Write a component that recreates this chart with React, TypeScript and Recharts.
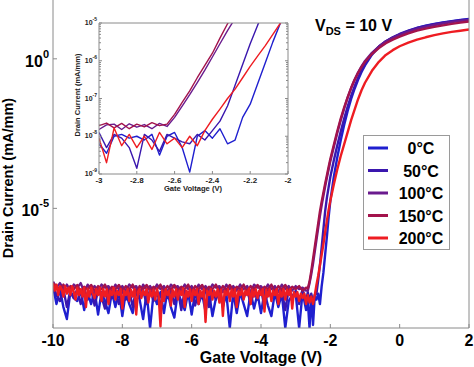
import React from "react";
import { LineChart, Line, XAxis, YAxis } from "recharts";

const FONT = '"Liberation Sans", Arial, sans-serif';

// gate voltage grid (V) for the main plot: noise floor part, then turn-on part
const FLOOR_V = [
  -10, -9.9, -9.8, -9.7, -9.6, -9.5, -9.4, -9.3, -9.2, -9.1,
  -9, -8.9, -8.8, -8.7, -8.6, -8.5, -8.4, -8.3, -8.2, -8.1,
  -8, -7.9, -7.8, -7.7, -7.6, -7.5, -7.4, -7.3, -7.2, -7.1,
  -7, -6.9, -6.8, -6.7, -6.6, -6.5, -6.4, -6.3, -6.2, -6.1,
  -6, -5.9, -5.8, -5.7, -5.6, -5.5, -5.4, -5.3, -5.2, -5.1,
  -5, -4.9, -4.8, -4.7, -4.6, -4.5, -4.4, -4.3, -4.2, -4.1,
  -4, -3.9, -3.8, -3.7, -3.6, -3.5, -3.4, -3.3, -3.2, -3.1,
  -3, -2.9, -2.8, -2.7,
];
// finer floor grid, used for the 200°C trace that lies on top
const FINE_V = [
  -10, -9.95, -9.9, -9.85, -9.8, -9.75, -9.7, -9.65, -9.6, -9.55,
  -9.5, -9.45, -9.4, -9.35, -9.3, -9.25, -9.2, -9.15, -9.1, -9.05,
  -9, -8.95, -8.9, -8.85, -8.8, -8.75, -8.7, -8.65, -8.6, -8.55,
  -8.5, -8.45, -8.4, -8.35, -8.3, -8.25, -8.2, -8.15, -8.1, -8.05,
  -8, -7.95, -7.9, -7.85, -7.8, -7.75, -7.7, -7.65, -7.6, -7.55,
  -7.5, -7.45, -7.4, -7.35, -7.3, -7.25, -7.2, -7.15, -7.1, -7.05,
  -7, -6.95, -6.9, -6.85, -6.8, -6.75, -6.7, -6.65, -6.6, -6.55,
  -6.5, -6.45, -6.4, -6.35, -6.3, -6.25, -6.2, -6.15, -6.1, -6.05,
  -6, -5.95, -5.9, -5.85, -5.8, -5.75, -5.7, -5.65, -5.6, -5.55,
  -5.5, -5.45, -5.4, -5.35, -5.3, -5.25, -5.2, -5.15, -5.1, -5.05,
  -5, -4.95, -4.9, -4.85, -4.8, -4.75, -4.7, -4.65, -4.6, -4.55,
  -4.5, -4.45, -4.4, -4.35, -4.3, -4.25, -4.2, -4.15, -4.1, -4.05,
  -4, -3.95, -3.9, -3.85, -3.8, -3.75, -3.7, -3.65, -3.6, -3.55,
  -3.5, -3.45, -3.4, -3.35, -3.3, -3.25, -3.2, -3.15, -3.1, -3.05,
  -3, -2.95, -2.9, -2.85, -2.8, -2.75, -2.7,
];
const RISE_V = [
  -2.65, -2.6, -2.55, -2.5, -2.45, -2.4, -2.35, -2.3, -2.25, -2.2,
  -2.15, -2.1, -2.05, -2.0, -1.9, -1.8, -1.7, -1.6, -1.5, -1.4,
  -1.3, -1.2, -1.1, -1.0, -0.8, -0.6, -0.4, -0.2, 0, 0.25,
  0.5, 0.75, 1, 1.25, 1.5, 1.75, 2,
];

// drain current, stored as log10(mA/mm)
const S0_FLOOR = [
  -7.6, -8.2, -7.7, -8.3, -8.7, -7.8, -8.0, -8.1, -7.75, -8.4,
  -7.8, -8.2, -7.75, -8.55, -7.8, -8.1, -8.5, -7.8, -8.3, -7.75,
  -8.6, -7.8, -8.2, -8.5, -7.8, -8.05, -8.7, -7.8, -9.0, -7.85,
  -8.2, -7.8, -8.5, -7.75, -8.3, -8.65, -7.8, -8.1, -8.4, -7.8,
  -8.55, -7.8, -8.2, -7.85, -8.45, -7.8, -8.6, -8.0, -7.8, -8.3,
  -7.85, -9.0, -7.8, -8.5, -7.8, -8.2, -8.6, -7.8, -8.35, -7.85,
  -8.5, -7.8, -8.25, -8.6, -7.8, -8.3, -7.85, -9.0, -8.1, -7.9,
  -7.85, -9.0, -7.8, -8.4,
];
const S0_RISE = [
  -8.1, -9.0, -7.9, -8.9, -7.95, -8.05, -7.85, -8.2, -7.6, -7.15,
  -6.55, -5.95, -5.3, -4.75, -3.95, -3.3, -2.72, -2.2, -1.74, -1.34,
  -1.0, -0.7, -0.44, -0.22, 0.14, 0.4, 0.58, 0.71, 0.82, 0.93,
  1.03, 1.11, 1.17, 1.22, 1.26, 1.3, 1.33,
];
const S50_FLOOR = [
  -7.55, -7.9, -8.1, -7.7, -8.3, -7.75, -8.0, -7.7, -8.2, -7.75,
  -8.05, -7.7, -8.25, -7.75, -7.95, -8.35, -7.7, -8.0, -7.75, -8.2,
  -7.7, -8.05, -7.75, -8.3, -7.7, -8.0, -7.75, -8.2, -7.7, -8.1,
  -7.75, -8.3, -7.7, -8.0, -7.75, -8.2, -7.7, -8.4, -7.75, -8.0,
  -7.7, -8.25, -7.75, -8.0, -7.7, -8.3, -7.75, -8.05, -7.7, -8.2,
  -7.75, -8.0, -7.7, -8.35, -7.75, -8.0, -7.7, -8.2, -7.75, -8.05,
  -7.7, -8.3, -7.75, -8.0, -7.7, -8.2, -7.75, -8.4, -7.7, -8.05,
  -7.75, -8.2, -7.7, -8.1,
];
const S50_RISE = [
  -7.8, -8.1, -7.85, -8.2, -7.9, -7.85, -7.4, -6.9, -6.3, -5.7,
  -5.1, -4.65, -4.3, -3.95, -3.4, -2.9, -2.43, -2.0, -1.6, -1.24,
  -0.92, -0.64, -0.39, -0.18, 0.17, 0.41, 0.59, 0.72, 0.83, 0.94,
  1.03, 1.1, 1.16, 1.21, 1.25, 1.29, 1.32,
];
const S100_FLOOR = [
  -7.45, -7.65, -7.5, -7.7, -7.55, -7.75, -7.55, -7.65, -7.5, -7.8,
  -7.55, -7.7, -7.6, -7.75, -7.55, -7.65, -7.6, -7.8, -7.55, -7.7,
  -7.6, -7.75, -7.55, -7.65, -7.6, -7.85, -7.55, -7.7, -7.6, -7.75,
  -7.55, -7.7, -7.6, -7.8, -7.55, -7.65, -7.6, -7.75, -7.55, -7.7,
  -7.6, -7.8, -7.55, -7.7, -7.6, -7.75, -7.55, -7.65, -7.6, -7.8,
  -7.55, -7.7, -7.6, -7.75, -7.55, -7.7, -7.6, -7.8, -7.55, -7.65,
  -7.6, -7.75, -7.55, -7.7, -7.6, -7.8, -7.55, -7.7, -7.6, -7.75,
  -7.6, -7.7, -7.65, -7.75,
];
const S100_RISE = [
  -7.75, -7.5, -7.2, -6.85, -6.45, -6.05, -5.65, -5.25, -4.9, -4.58,
  -4.27, -3.98, -3.7, -3.42, -2.95, -2.48, -2.05, -1.66, -1.3, -0.98,
  -0.7, -0.46, -0.25, -0.07, 0.2, 0.41, 0.58, 0.7, 0.8, 0.91,
  1.0, 1.07, 1.13, 1.18, 1.23, 1.27, 1.3,
];
const S150_FLOOR = [
  -7.5, -7.62, -7.7, -7.55, -7.75, -7.6, -7.7, -7.56, -7.8, -7.62,
  -7.7, -7.56, -7.75, -7.6, -7.7, -7.55, -7.8, -7.62, -7.7, -7.56,
  -7.75, -7.6, -7.7, -7.55, -7.82, -7.6, -7.7, -7.56, -7.75, -7.62,
  -7.7, -7.55, -7.8, -7.6, -7.72, -7.56, -7.75, -7.62, -7.7, -7.55,
  -7.8, -7.6, -7.7, -7.56, -7.75, -7.62, -7.7, -7.55, -7.8, -7.6,
  -7.72, -7.56, -7.75, -7.62, -7.7, -7.55, -7.8, -7.6, -7.7, -7.56,
  -7.75, -7.62, -7.7, -7.55, -7.8, -7.6, -7.72, -7.56, -7.75, -7.62,
  -7.7, -7.6, -7.75, -7.65,
];
const S150_RISE = [
  -7.68, -7.45, -7.1, -6.7, -6.3, -5.9, -5.5, -5.1, -4.78, -4.48,
  -4.18, -3.9, -3.62, -3.35, -2.88, -2.42, -2.0, -1.62, -1.28, -0.97,
  -0.7, -0.47, -0.27, -0.1, 0.16, 0.36, 0.52, 0.64, 0.74, 0.85,
  0.94, 1.01, 1.07, 1.12, 1.17, 1.21, 1.25,
];
const S200_FINE = [
  -7.5, -7.75, -7.55, -7.9, -7.6, -7.7, -7.95, -7.6, -7.85, -7.65,
  -7.9, -7.6, -7.8, -8.05, -7.65, -7.9, -7.7, -7.95, -7.65, -8.3,
  -7.7, -7.95, -7.65, -7.85, -8.0, -7.7, -7.9, -7.65, -8.1, -7.7,
  -7.95, -7.7, -8.2, -7.75, -7.9, -7.65, -8.05, -7.75, -7.9, -7.7,
  -8.35, -7.75, -7.9, -7.7, -8.1, -7.72, -7.95, -7.7, -8.55, -7.8,
  -7.7, -8.0, -7.75, -7.9, -7.7, -8.15, -7.75, -7.95, -7.72, -8.05,
  -7.7, -7.95, -8.95, -7.75, -8.1, -7.7, -7.9, -7.75, -8.25, -7.72,
  -7.95, -7.7, -8.05, -7.75, -7.9, -7.68, -8.3, -7.75, -7.95, -7.7,
  -8.1, -7.72, -7.9, -7.7, -8.2, -7.75, -7.95, -7.7, -8.8, -7.75,
  -7.9, -7.7, -8.05, -7.75, -7.95, -7.7, -8.15, -7.72, -8.6, -7.75,
  -7.9, -7.7, -8.1, -7.72, -7.95, -7.7, -8.3, -7.75, -7.9, -7.7,
  -8.05, -7.75, -7.9, -7.68, -8.2, -7.72, -7.95, -7.7, -8.0, -7.75,
  -7.9, -7.7, -8.45, -7.72, -7.95, -7.7, -8.1, -7.75, -7.9, -7.7,
  -8.2, -7.75, -7.95, -7.7, -8.05, -7.72, -7.9, -7.7, -8.35, -7.8,
  -7.95, -7.8, -8.1, -7.85, -8.0, -7.85, -8.2,
];
const S200_RISE = [
  -7.9, -8.15, -7.95, -8.2, -7.9, -7.55, -7.25, -6.9, -6.55, -6.2,
  -5.8, -5.42, -5.05, -4.75, -4.2, -3.7, -3.25, -2.85, -2.45, -2.05,
  -1.7, -1.35, -1.05, -0.8, -0.4, -0.1, 0.13, 0.29, 0.42, 0.54,
  0.64, 0.72, 0.79, 0.85, 0.9, 0.94, 0.98,
];

// inset: -3 V .. -2 V
const INSET_V = [
  -3, -2.96, -2.92, -2.88, -2.84, -2.8, -2.76, -2.72, -2.68, -2.64,
  -2.6, -2.56, -2.52, -2.48, -2.44, -2.4, -2.36, -2.32, -2.28, -2.24,
  -2.2, -2.16, -2.12, -2.08, -2.04, -2,
];
const IN0 = [
  -8.2, -8.45, -8.0, -7.95, -8.05, -8.0, -8.1, -7.95, -8.5, -8.0,
  -7.9, -8.3, -8.95, -8.0, -7.85, -8.05, -7.8, -8.2, -8.1, -7.5,
  -7.15, -6.6, -6.05, -5.5, -5.0, -4.5,
];
const IN50 = [
  -7.9, -8.3, -7.95, -8.05, -8.3, -8.85, -7.95, -8.1, -8.4, -7.95,
  -8.05, -8.15, -8.2, -7.95, -8.1, -7.85, -7.6, -7.2, -6.65, -6.1,
  -5.55, -5.05, -4.6, -4.2, -3.85, -3.55,
];
const IN100 = [
  -7.82, -7.7, -7.68, -7.82, -7.67, -7.76, -7.69, -7.8, -7.66, -7.74,
  -7.5, -7.2, -6.9, -6.58, -6.25, -5.9, -5.55, -5.2, -4.88, -4.6,
  -4.35, -4.1, -3.88, -3.68, -3.5, -3.34,
];
const IN150 = [
  -7.72, -7.65, -7.78, -7.66, -7.8, -7.68, -7.75, -7.64, -7.72, -7.68,
  -7.42, -7.1, -6.8, -6.45, -6.12, -5.8, -5.4, -5.02, -4.7, -4.44,
  -4.2, -3.98, -3.78, -3.6, -3.43, -3.28,
];
const IN200 = [
  -8.05, -8.7, -7.78, -8.25, -7.95, -8.3, -8.0, -8.35, -7.9, -8.2,
  -8.05, -8.3, -8.0, -8.25, -7.85, -7.55, -7.28, -7.0, -6.75, -6.45,
  -6.15, -5.87, -5.6, -5.3, -5.0, -4.72,
];

const X_TICKS = [-10, -8, -6, -4, -2, 0, 2];
const Y_TICKS = [-5, 0];
const INSET_X_TICKS = [-3, -2.8, -2.6, -2.4, -2.2, -2];
const INSET_Y_TICKS = [-9, -8, -7, -6, -5];
const INSET_MINOR = [-9, -8, -7, -6].flatMap((d) =>
  [2, 3, 4, 5, 6, 7, 8, 9].map((k) => d + Math.log10(k))
);
const INSET_ALL_Y = [...INSET_Y_TICKS, ...INSET_MINOR];

const SERIES = [
  { key: "s0", name: "0°C", color: "#1f1fcf" },
  { key: "s50", name: "50°C", color: "#3a17ae" },
  { key: "s100", name: "100°C", color: "#6a1b8e" },
  { key: "s150", name: "150°C", color: "#a3134c" },
  { key: "s200", name: "200°C", color: "#ee1c22" },
];

const toRows = (vs: number[], ys: number[]) => vs.map((v, i) => ({ v, y: ys[i] }));

const MAIN_DATA: Record<string, { v: number; y: number }[]> = {
  s0: toRows([...FLOOR_V, ...RISE_V], [...S0_FLOOR, ...S0_RISE]),
  s50: toRows([...FLOOR_V, ...RISE_V], [...S50_FLOOR, ...S50_RISE]),
  s100: toRows([...FLOOR_V, ...RISE_V], [...S100_FLOOR, ...S100_RISE]),
  s150: toRows([...FLOOR_V, ...RISE_V], [...S150_FLOOR, ...S150_RISE]),
  s200: toRows([...FINE_V, ...RISE_V], [...S200_FINE, ...S200_RISE]),
};
const INSET_DATA: Record<string, { v: number; y: number }[]> = {
  s0: toRows(INSET_V, IN0),
  s50: toRows(INSET_V, IN50),
  s100: toRows(INSET_V, IN100),
  s150: toRows(INSET_V, IN150),
  s200: toRows(INSET_V, IN200),
};

const AXIS = "#8a8a8a";

const MainXTick = (p: any) => (
  <text x={p.x} y={p.y + 20} textAnchor="middle" fontFamily={FONT} fontSize={16} fontWeight="bold" fill="#000">
    {String(p.payload.value)}
  </text>
);

const MainYTick = (p: any) => (
  <text x={p.x - 6} y={p.y + 8} textAnchor="end" fontFamily={FONT} fontSize={16} fontWeight="bold" fill="#000">
    10
    <tspan dy={-9} fontSize={11}>{String(p.payload.value)}</tspan>
  </text>
);

const InsetXTick = (p: any) => (
  <text x={p.x} y={p.y + 10} textAnchor="middle" fontFamily={FONT} fontSize={8} fontWeight="bold" fill="#222">
    {String(p.payload.value)}
  </text>
);

// left inset axis: tick mark drawn here (major longer), label only on decades
const InsetYTick = (p: any) => {
  const major = Number.isInteger(p.payload.value);
  return (
    <g>
      <line x1={p.x} x2={p.x + (major ? 3 : 2)} y1={p.y} y2={p.y} stroke={AXIS} />
      {major && (
        <text x={p.x - 2} y={p.y + 2} textAnchor="end" fontFamily={FONT} fontSize={7} fontWeight="bold" fill="#222">
          10
          <tspan dy={-4} fontSize={5}>{String(p.payload.value)}</tspan>
        </text>
      )}
    </g>
  );
};

const InsetRightTick = (p: any) => {
  const major = Number.isInteger(p.payload.value);
  return <line x1={p.x} x2={p.x - (major ? 3 : 2)} y1={p.y} y2={p.y} stroke={AXIS} />;
};

export default function App() {
  return (
    <div style={{ position: "absolute", left: 0, top: 0, width: 474, height: 367, background: "#fff", overflow: "hidden" }}>
      <div style={{ position: "absolute", left: 0, top: -2 }}>
        <LineChart width={474} height={369} margin={{ top: 0, right: 4, bottom: 0, left: 0 }}>
          <XAxis dataKey="v" type="number" domain={[-10, 2]} ticks={X_TICKS} allowDataOverflow height={39}
            stroke={AXIS} tickSize={-4} tick={MainXTick} interval={0} />
          <XAxis xAxisId="top" orientation="top" type="number" domain={[-10, 2]} ticks={X_TICKS} allowDataOverflow
            height={1} stroke={AXIS} tickSize={-4} tick={false} interval={0} />
          <YAxis type="number" domain={[-9, 2]} ticks={Y_TICKS} allowDataOverflow width={53}
            stroke={AXIS} tickSize={-4} tick={MainYTick} interval={0} />
          <YAxis yAxisId="right" orientation="right" type="number" domain={[-9, 2]} ticks={Y_TICKS} allowDataOverflow
            width={1} stroke={AXIS} tickSize={-4} tick={false} interval={0} />
          {SERIES.map((s) => (
            <Line key={s.key} data={MAIN_DATA[s.key]} dataKey="y" name={s.name} type="linear" stroke={s.color}
              strokeWidth={2.4} strokeLinejoin="round" dot={false} activeDot={false} isAnimationActive={false} />
          ))}
        </LineChart>
      </div>

      <div style={{ position: "absolute", left: 60, top: 5 }}>
        <LineChart width={240} height={195} margin={{ top: 17, right: 11, bottom: 0, left: 0 }}>
          <XAxis dataKey="v" type="number" domain={[-3, -2]} ticks={INSET_X_TICKS} allowDataOverflow height={26}
            stroke={AXIS} tickSize={-3} tick={InsetXTick} interval={0} />
          <XAxis xAxisId="top" orientation="top" type="number" domain={[-3, -2]} ticks={INSET_X_TICKS} allowDataOverflow
            height={1} stroke={AXIS} tickSize={-3} tick={false} interval={0} />
          <YAxis type="number" domain={[-9, -5]} ticks={INSET_ALL_Y} allowDataOverflow width={39}
            stroke={AXIS} tickLine={false} tickSize={0} tickMargin={0} tick={InsetYTick} interval={0} />
          <YAxis yAxisId="right" orientation="right" type="number" domain={[-9, -5]} ticks={INSET_ALL_Y} allowDataOverflow
            width={1} stroke={AXIS} tickLine={false} tickSize={0} tickMargin={0} tick={InsetRightTick} interval={0} />
          {SERIES.map((s) => (
            <Line key={s.key} data={INSET_DATA[s.key]} dataKey="y" name={s.name} type="linear" stroke={s.color}
              strokeWidth={1.4} strokeLinejoin="round" dot={false} activeDot={false} isAnimationActive={false} />
          ))}
        </LineChart>
      </div>

      <svg width={474} height={367} style={{ position: "absolute", left: 0, top: 0, pointerEvents: "none" }}>
        <text transform="translate(13,178) rotate(-90)" textAnchor="middle" fontFamily={FONT} fontSize={14.5} fontWeight="bold">
          Drain Current (mA/mm)
        </text>
        <text x={261} y={363} textAnchor="middle" fontFamily={FONT} fontSize={16} fontWeight="bold">
          Gate Voltage (V)
        </text>
        <text x={315} y={31} fontFamily={FONT} fontSize={16} fontWeight="bold">
          V<tspan dy={4} fontSize={11}>DS</tspan><tspan dy={-4}> = 10 V</tspan>
        </text>
        <text transform="translate(80,95) rotate(-90)" textAnchor="middle" fontFamily={FONT} fontSize={7.5} fontWeight="bold" fill="#222">
          Drain Current (mA/mm)
        </text>
        <text x={193} y={191} textAnchor="middle" fontFamily={FONT} fontSize={7.6} fontWeight="bold" fill="#222">
          Gate Voltage (V)
        </text>
        <rect x={363.5} y={135.5} width={86} height={114} fill="#fff" stroke="#9a9a9a" />
        {SERIES.map((s, i) => (
          <g key={s.key}>
            <line x1={368} x2={388} y1={148 + i * 22.5} y2={148 + i * 22.5} stroke={s.color} strokeWidth={3} />
            <text x={421} y={154 + i * 22.5} textAnchor="middle" fontFamily={FONT} fontSize={16} fontWeight="bold">
              {s.name}
            </text>
          </g>
        ))}
      </svg>
    </div>
  );
}
